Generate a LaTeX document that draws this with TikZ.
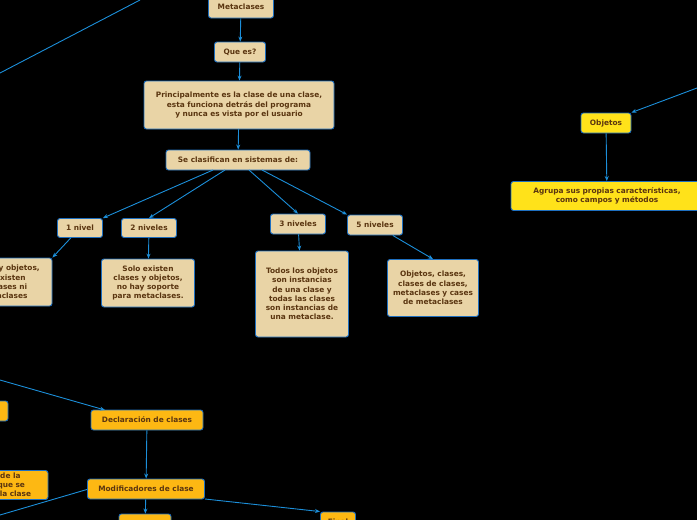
\documentclass[tikz,border=0pt]{standalone}
\usepackage{fontspec}
\setmainfont{DejaVu Sans}
\usetikzlibrary{arrows.meta}
\definecolor{lnk}{HTML}{1C8FDA}
\definecolor{bord}{HTML}{1E6FC0}
\definecolor{tan}{HTML}{E9D4A6}
\definecolor{txt}{HTML}{5A3510}
\definecolor{org}{HTML}{FDB813}
\definecolor{ylw}{HTML}{FFE21A}
\tikzset{
 box/.style={draw=bord,line width=0.9pt,rounded corners=2.5pt,fill=tan,text=txt,font=\bfseries\fontsize{7.4}{9.2}\selectfont,align=center,inner sep=2pt},
 obox/.style={box,fill=org},
 ybox/.style={box,fill=ylw},
 lk/.style={draw=lnk,line width=0.9pt,-{Stealth[length=5pt,width=4pt]}},
 ln/.style={draw=lnk,line width=0.9pt}
}
\begin{document}
\begin{tikzpicture}[x=1pt,y=-1pt]
\lefthyphenmin=64\relax
\hyphenpenalty=10000\relax
\fill[black] (0,0) rectangle (697,520);
\useasboundingbox (0,0) rectangle (697,520);
\node[box,minimum width=65,minimum height=22] (meta) at (241,7) {Metaclases};
\node[box,minimum width=51,minimum height=20] (que) at (240,52) {Que es?};
\node[box,minimum width=190,minimum height=48,text width=170] (prin) at (239,105) {Principalmente es la clase de una clase, esta funciona detrás del programa y nunca es vista por el usuario};
\node[box,minimum width=144,minimum height=20] (se) at (238,160) {Se clasifican en sistemas de:};
\node[box,minimum width=45,minimum height=19] (n1) at (80,228) {1 nivel};
\node[box,minimum width=55,minimum height=19] (n2) at (149,228) {2 niveles};
\node[box,minimum width=55,minimum height=20] (n3) at (298,224) {3 niveles};
\node[box,minimum width=55,minimum height=20] (n5) at (375,225) {5 niveles};
\node[box,minimum width=96,minimum height=48,text width=80] (d1) at (4,282) {Solo hay objetos, no existen ni clases ni metaclases};
\node[box,minimum width=93,minimum height=48,text width=76] (d2) at (148,283) {Solo existen clases y objetos, no hay soporte para metaclases.};
\node[box,minimum width=93,minimum height=86,text width=74] (d3) at (302,294) {Todos los objetos son instancias de una clase y todas las clases son instancias de una metaclase.};
\node[box,minimum width=91,minimum height=57,text width=80] (d5) at (433,288) {Objetos, clases, clases de clases, metaclases y cases de metaclases};
\node[ybox,minimum width=50,minimum height=20] (obj) at (606,123) {Objetos};
\node[ybox,minimum width=192,minimum height=29,text width=170] (agr) at (607,196) {Agrupa sus propias características, como campos y métodos};
\node[obox,minimum width=40,minimum height=20] (lb1) at (-12,411) {\phantom{x}};
\node[obox,minimum width=112,minimum height=20] (dec) at (147,420) {Declaración de clases};
\node[obox,minimum width=110,minimum height=29,text width=100] (lb2) at (-7,485) {Alcance de la clase en que se encuentra la clase};
\node[obox,minimum width=117,minimum height=20] (mod) at (146,489) {Modificadores de clase};
\node[obox,minimum width=52,minimum height=20] (pub) at (145,524) {Public};
\node[obox,minimum width=35,minimum height=20] (fin) at (338,522) {Final};
\coordinate (tl) at (140,0); \coordinate (tl2) at (0,73);
\coordinate (tr) at (697,88);
\coordinate (ldec) at (0,380);
\coordinate (lmod) at (0,515);
\draw[ln] (tl) -- (tl2);
\draw[lk] (meta) -- (que);
\draw[lk] (que) -- (prin);
\draw[lk] (prin) -- (se);
\draw[lk] (213,170) -- (n1.north east);
\draw[lk] (225,170) -- (n2.north);
\draw[lk] (249,170) -- (n3.north);
\draw[lk] (262,170) -- (n5.north west);
\draw[lk] (n1) -- (d1.north east);
\draw[lk] (n2) -- (d2);
\draw[lk] (n3) -- (d3);
\draw[lk] (n5) -- (d5.north);
\draw[lk] (tr) -- (obj.north east);
\draw[lk] (obj) -- (agr);
\draw[lk] (ldec) -- (105,410);
\draw[lk] (dec) -- (mod);
\draw[lk] (mod) -- (pub);
\draw[ln] (mod.south west) ++(0,-10) -- (lmod);
\draw[lk] (205,499) -- (fin.north west);
\end{tikzpicture}
\end{document}
